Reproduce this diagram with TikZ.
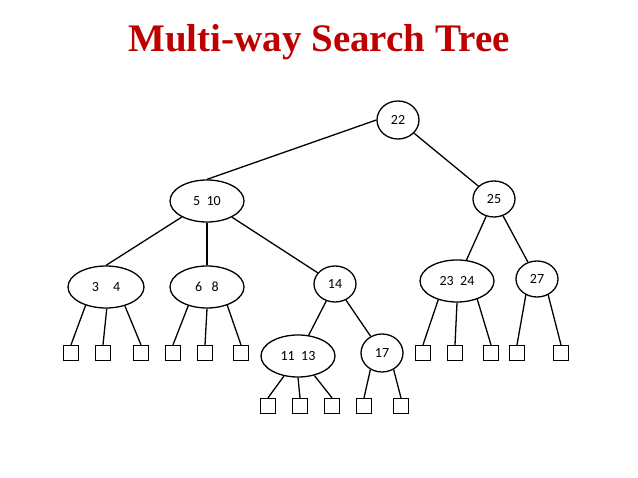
\documentclass[tikz,border=0pt]{standalone}
\usepackage{fontspec}
\setmainfont{Carlito}
\newfontfamily\titlefont{Liberation Serif}
\usetikzlibrary{shapes.geometric}
\begin{document}
\begin{tikzpicture}[x=1pt,y=-1pt,line width=1.3pt,
  el/.style={draw,ellipse,inner sep=0pt,font=\fontsize{14}{16}\selectfont},
  sq/.style={draw,minimum size=15pt,inner sep=0pt},
  ed/.style={}]
\useasboundingbox (0,0) rectangle (638,478);
\node[text=red!75!black,font=\titlefont\bfseries\fontsize{39}{43}\selectfont] (title) at (319,42) {Multi-way Search Tree};
\node[el,minimum width=42pt,minimum height=38pt] (n22) at (398,120) {22};
\node[el,minimum width=74pt,minimum height=42pt] (n510) at (207,201) {5\ \ 10};
\node[el,minimum width=42pt,minimum height=36pt] (n25) at (494,199) {25};
\node[el,minimum width=76pt,minimum height=42pt] (n34) at (106,287) {3\quad 4};
\node[el,minimum width=74pt,minimum height=42pt] (n68) at (207,287) {6\ \ \ 8};
\node[el,minimum width=42pt,minimum height=36pt] (n14) at (335,284) {14};
\node[el,minimum width=74pt,minimum height=42pt] (n2324) at (457,281) {23\ \ 24};
\node[el,minimum width=42pt,minimum height=36pt] (n27) at (537,279) {27};
\node[el,minimum width=74pt,minimum height=42pt] (n1113) at (298,356) {11\ \ 13};
\node[el,minimum width=42pt,minimum height=38pt] (n17) at (382,353) {17};
\foreach \n/\x in {a1/71,a2/103,a3/141,b1/173,b2/205,b3/241,c1/423,c2/455,c3/491,d1/517,d2/561}
  \node[sq] (\n) at (\x,353) {};
\foreach \n/\x in {e1/268,e2/300,e3/332,f1/364,f2/401}
  \node[sq] (\n) at (\x,406) {};
\draw[ed] (n22.west) -- (n510.north);
\draw[ed] (n22) -- (n25);
\draw[ed] (n510) -- (n34.north);
\draw[ed] (n510) -- (n68);
\draw[ed] (n510) -- (n14);
\draw[ed] (n25) -- (n2324);
\draw[ed] (n25) -- (n27);
\draw[ed] (n14) -- (n1113);
\draw[ed] (n14) -- (n17);
\draw[ed] (n34.222) -- (a1.north);
\draw[ed] (n34.272) -- (a2.north);
\draw[ed] (n34.315) -- (a3.north);
\draw[ed] (n68.225) -- (b1.north);
\draw[ed] (n68.270) -- (b2.north);
\draw[ed] (n68.318) -- (b3.north);
\draw[ed] (n2324.225) -- (c1.north);
\draw[ed] (n2324.270) -- (c2.north);
\draw[ed] (n2324.318) -- (c3.north);
\draw[ed] (n27.235) -- (d1.north);
\draw[ed] (n27.305) -- (d2.north);
\draw[ed] (n1113.235) -- (e1.north);
\draw[ed] (n1113.270) -- (e2.north);
\draw[ed] (n1113.310) -- (e3.north);
\draw[ed] (n17.235) -- (f1.north);
\draw[ed] (n17.305) -- (f2.north);
\end{tikzpicture}
\end{document}
